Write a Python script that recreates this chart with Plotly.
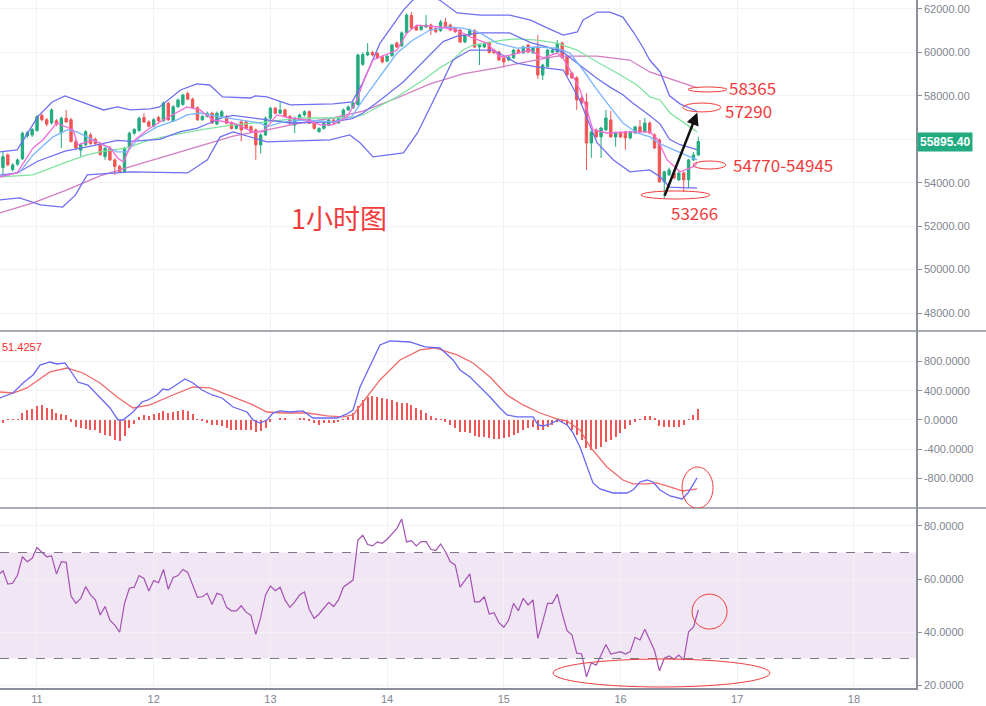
import numpy as np
import plotly.graph_objects as go

# ---------------- data ----------------
START = 10 + 16 / 24  # first hourly candle, in day units (day 10, 16:00)

opens = [54900, 54700, 55280, 54600, 54850, 55100, 56150, 56200, 56400, 57100,
         56900, 56750, 56850, 56300, 56970, 56900, 55900, 55500, 55750, 56200,
         56000, 55800, 55200, 55600, 55050, 54750, 54500, 55600, 56280, 56400,
         57000, 56800, 56600, 57000, 56850, 57650, 56850, 57500, 57600, 58100,
         57850, 57450, 56900, 57050, 57200, 56700, 57050, 57050, 56750, 56500,
         56800, 56800, 56580, 56430, 55740, 56200, 56970, 57430, 57200, 57350,
         57050, 56650, 56900, 57120, 57270, 56740, 56350, 56500, 56650, 56890,
         56750, 56970, 57350, 57450, 57600, 59450, 59880, 60000, 59950, 59800,
         59600, 59850, 60430, 60300, 60900, 61700, 61200, 61050, 61170, 61260,
         61100, 61000, 61400, 61260, 61100, 61030, 60480, 60800, 61000, 60250,
         60250, 60450, 60100, 60020, 59740, 59650, 59750, 60110, 59980, 60340,
         59980, 60250, 58960, 59350, 60000, 60020, 60430, 59790, 59050, 58830,
         57900, 57720, 55830, 56430, 56110, 56430, 56890, 56110, 56290, 56340,
         56060, 56290, 56570, 56340, 56750, 56200, 55970, 54040, 54360, 54450,
         54130, 54450, 54130, 55050, 55280]
highs = [55050, 55450, 55350, 54900, 55120, 56350, 56380, 56520, 57120, 57200,
         56980, 57430, 56930, 57050, 57350, 56980, 55980, 55820, 56420, 56300,
         56080, 55880, 55650, 55680, 55120, 54820, 55650, 56350, 56520, 57050,
         57200, 56880, 56970, 57080, 57750, 57720, 57580, 57880, 58100, 58200,
         57920, 57520, 57120, 57280, 57270, 57280, 57350, 57120, 56820, 56720,
         56880, 56870, 56650, 56500, 56280, 57050, 57500, 57500, 57740, 57420,
         57120, 57050, 57180, 57330, 57340, 56800, 56560, 56800, 56950, 56960,
         57030, 57420, 57560, 57740, 59950, 60000, 60430, 60080, 60020, 59870,
         59900, 60400, 60500, 60970, 61800, 61860, 61270, 61270, 61720, 61330,
         61170, 61500, 61600, 61330, 61170, 61100, 60870, 61100, 61070, 60400,
         60500, 60520, 60170, 60090, 59810, 59850, 60170, 60180, 60320, 60400,
         60260, 60800, 59480, 60170, 60170, 60570, 60500, 59850, 59120, 58900,
         57970, 58130, 56400, 56500, 56580, 57350, 57300, 56350, 56360, 56400,
         56400, 56630, 56890, 56980, 56820, 56270, 56040, 54560, 54700, 54520,
         54520, 54520, 55100, 55420, 56110]
lows = [54600, 54300, 54750, 54520, 54780, 55050, 56050, 56100, 56350, 56830,
        56600, 56680, 56600, 55600, 56750, 55850, 55520, 55200, 55680, 55750,
        55750, 55230, 55050, 55000, 54350, 54450, 54450, 55550, 56200, 56350,
        56750, 56550, 56550, 56800, 56800, 56850, 56800, 57450, 57550, 57800,
        57400, 56850, 56850, 57000, 56700, 56650, 57000, 56700, 56450, 56450,
        55900, 56450, 56300, 55050, 55350, 56150, 56900, 57150, 57150, 57000,
        56700, 56280, 56850, 57050, 56700, 56450, 56300, 56450, 56600, 56700,
        56700, 56920, 57300, 57400, 57550, 59380, 59820, 59820, 59700, 59500,
        59550, 59800, 60200, 60250, 60850, 61080, 60980, 61000, 61120, 60800,
        60900, 60950, 61120, 60980, 60900, 60430, 60430, 60750, 60200, 59420,
        60200, 59950, 59930, 59600, 59300, 59600, 59700, 59930, 59930, 59970,
        59930, 58780, 58730, 59300, 59950, 59970, 59700, 58900, 58780, 57350,
        57620, 54590, 55140, 56060, 55140, 56380, 56060, 55650, 56060, 55510,
        56000, 56240, 56290, 56290, 56240, 55550, 53990, 53266, 54300, 54170,
        54080, 53570, 53760, 55000, 55230]
closes = [54700, 55200, 54820, 54820, 55050, 56280, 56300, 56450, 57040, 56900,
          56700, 57350, 56700, 56970, 56800, 55900, 55600, 55750, 56350, 55800,
          55800, 55300, 55580, 55050, 54750, 54500, 55580, 56280, 56450, 56970,
          56800, 56600, 56900, 56850, 57670, 56900, 57500, 57810, 58040, 57850,
          57450, 56900, 57050, 57200, 56750, 57200, 57270, 56740, 56500, 56650,
          56430, 56500, 56350, 55740, 56200, 56970, 57430, 57200, 57350, 57050,
          56740, 56970, 57120, 57270, 56740, 56500, 56500, 56740, 56890, 56750,
          56970, 57350, 57490, 57670, 59880, 59900, 60000, 59880, 59750, 59560,
          59830, 60340, 60250, 60900, 61720, 61130, 61030, 61200, 61260, 61030,
          60950, 61400, 61170, 61030, 60950, 60480, 60800, 61030, 60250, 60340,
          60430, 60000, 59980, 59650, 59560, 59790, 60110, 59980, 60250, 60020,
          60200, 58960, 59420, 60110, 60110, 60430, 59750, 58960, 58830, 57810,
          57670, 55830, 56340, 56110, 56520, 56980, 56110, 56290, 56110, 56060,
          56340, 56570, 56340, 56750, 56290, 55600, 54040, 54500, 54590, 54220,
          54450, 54130, 55050, 55280, 55895.4]
LAST_PRICE = 55895.40

# Bollinger bands and moving averages (time in days, value in price)
bbu_t = [10.683, 10.83, 11.01, 11.13, 11.24, 11.57, 11.69, 11.8, 11.97, 12.05, 12.23, 12.37,
         12.48, 12.59, 12.83, 12.87, 12.97, 13.17, 13.54, 13.70, 13.79, 13.94, 14.14, 14.22,
         14.33, 14.45, 14.6, 14.8, 15.05, 15.23, 15.37, 15.51, 15.63, 15.68, 15.8, 15.91,
         16.02, 16.11, 16.19, 16.25, 16.34, 16.42, 16.51, 16.656]
bbu_v = [55420, 55510, 57070, 57720, 58000, 57350, 57490, 57350, 57400, 57490, 58270, 58550,
         58500, 57950, 57900, 58000, 57950, 57580, 57630, 57720, 58590, 60430, 61950, 62410,
         62700, 62410, 61816, 61720, 61720, 61490, 61130, 60800, 60940, 61490, 61860, 61860,
         61630, 60940, 60250, 59650, 59100, 58000, 57630, 57290]
bbl_t = [10.683, 10.85, 11.03, 11.22, 11.33, 11.43, 11.8, 12.29, 12.46, 12.57, 12.68, 12.85,
         12.97, 13.51, 13.68, 13.77, 13.88, 14.14, 14.26, 14.37, 14.48, 14.565, 14.71, 14.91,
         15.11, 15.28, 15.51, 15.65, 15.8, 15.94, 16.08, 16.25, 16.34, 16.42, 16.57, 16.656]
bbl_v = [53210, 53300, 52980, 52880, 53440, 54360, 54500, 54450, 55050, 56110, 56340, 56060,
         55880, 55970, 56200, 55830, 55190, 55370, 56290, 57490, 58730, 59650, 60110, 60110,
         59510, 59330, 59190, 57810, 55830, 55050, 54500, 54590, 54270, 53800, 53760, 53760]
bbm_t = [10.683, 10.83, 11.01, 11.24, 11.43, 11.57, 11.69, 11.8, 11.97, 12.05, 12.23, 12.37,
         12.48, 12.59, 12.68, 12.83, 12.97, 13.17, 13.54, 13.70, 13.79, 13.94, 14.14, 14.26,
         14.37, 14.48, 14.6, 14.8, 15.05, 15.23, 15.37, 15.51, 15.63, 15.8, 15.91, 16.02,
         16.11, 16.25, 16.34, 16.42, 16.51, 16.656]
bbm_v = [54350, 54450, 55000, 55450, 55650, 55800, 55950, 55900, 55950, 56000, 56350, 56500,
         56750, 57000, 57100, 57000, 56900, 56750, 56800, 56950, 57200, 57800, 58650, 59300,
         59900, 60500, 60750, 60900, 60900, 60450, 60250, 60000, 59500, 58800, 58400, 58050,
         57650, 57100, 56700, 56000, 55750, 55525]
ma_fast_t = [10.683, 10.83, 10.966, 11.05, 11.17, 11.31, 11.35, 11.48, 11.63, 11.69, 11.74,
             11.82, 11.943, 12.08, 12.285, 12.397, 12.508, 12.68, 12.85, 12.937, 13.056, 13.168,
             13.314, 13.425, 13.536, 13.656, 13.742, 13.793, 13.879, 14.085, 14.17, 14.256,
             14.453, 14.599, 14.71, 14.856, 14.967, 15.053, 15.225, 15.336, 15.456, 15.507,
             15.567, 15.653, 15.713, 15.764, 15.884, 16.081, 16.253, 16.32, 16.399, 16.51,
             16.621, 16.656]
ma_fast_v = [54270, 54450, 55600, 55970, 56750, 56430, 55740, 55970, 55600, 55140, 54960,
             55880, 56430, 56890, 57490, 57350, 56890, 56750, 56340, 56340, 57120, 56980,
             56890, 56660, 56660, 57030, 57810, 58590, 59650, 60110, 60900, 61260,
             61170, 61030, 60710, 60430, 59790, 59880, 60110, 59740, 59970, 59740,
             59190, 58270, 57350, 56430, 56290, 56340, 56340, 55970, 55050, 54500,
             54730, 54910]
ma_mid_t = [10.683, 10.854, 10.966, 11.137, 11.257, 11.343, 11.48, 11.6, 11.686, 11.77, 11.883,
            12.028, 12.2, 12.285, 12.397, 12.568, 12.74, 12.911, 12.971, 13.108, 13.314, 13.536,
            13.656, 13.70, 13.793, 13.939, 14.085, 14.222, 14.368, 14.513, 14.65, 14.796,
            14.942, 15.113, 15.284, 15.456, 15.567, 15.679, 15.799, 15.91, 16.021, 16.141,
            16.253, 16.339, 16.484, 16.656]
ma_mid_v = [54270, 54500, 55280, 56110, 56430, 56340, 55970, 55650, 55420, 55420, 56110,
            56570, 56890, 57120, 57210, 57030, 56890, 56750, 56570, 56800, 56890, 56800,
            56980, 57070, 57810, 58870, 59970, 60570, 61030, 61170, 61120, 60900,
            60430, 60200, 60250, 60200, 59970, 59190, 58270, 57490, 56750, 56290,
            56110, 55790, 55460, 55050]
ma_slow_t = [10.683, 10.966, 11.257, 11.429, 11.54, 11.77, 11.968, 12.165, 12.397, 12.68,
             12.971, 13.254, 13.536, 13.73, 13.793, 14.085, 14.31, 14.453, 14.565, 14.65,
             14.736, 14.882, 14.993, 15.113, 15.284, 15.456, 15.627, 15.799, 15.97, 16.141,
             16.253, 16.339, 16.424, 16.656]
ma_slow_v = [54270, 54360, 54960, 55280, 55420, 55600, 55970, 56200, 56430, 56660,
             56800, 56980, 56980, 57030, 57120, 57950, 58730, 59290, 59650, 60110,
             60340, 60480, 60570, 60620, 60570, 60430, 60110, 59560, 59050, 58500,
             57950, 57810, 57210, 56340]
ma_long_t = [10.683, 10.966, 11.257, 11.54, 11.823, 12.114, 12.397, 12.68, 12.971, 13.254,
             13.536, 13.793, 14.085, 14.368, 14.65, 14.942, 15.225, 15.456, 15.8, 16.08,
             16.25, 16.45, 16.656]
ma_long_v = [52610, 53070, 53670, 54310, 54770, 55230, 55690, 56150, 56430, 56750,
             56980, 57300, 57900, 58550, 59010, 59290, 59600, 59830, 59830, 59650,
             59100, 58730, 58365]

# MACD
macd_t = [10.683, 10.794, 10.88, 10.966, 11.026, 11.111, 11.171, 11.24, 11.3, 11.351, 11.437,
          11.54, 11.626, 11.694, 11.737, 11.823, 11.9, 11.951, 12.028, 12.08, 12.123, 12.165,
          12.268, 12.337, 12.414, 12.5, 12.585, 12.68, 12.8, 12.851, 12.911, 12.971, 13.022,
          13.082, 13.168, 13.279, 13.365, 13.451, 13.571, 13.656, 13.708, 13.768, 13.854,
          13.939, 14.025, 14.196, 14.325, 14.453, 14.565, 14.625, 14.71, 14.796, 14.882,
          14.967, 15.027, 15.113, 15.25, 15.293, 15.336, 15.396, 15.464, 15.542, 15.593,
          15.653, 15.713, 15.764, 15.824, 15.936, 16.056, 16.107, 16.167, 16.227, 16.279,
          16.339, 16.424, 16.527, 16.578, 16.656]
macd_v = [300, 368, 505, 614, 750, 791, 764, 778, 641, 518, 477,
          300, 164, 0, 0, 109, 246, 273, 341, 423, 409, 450,
          559, 505, 409, 341, 300, 177, 109, 0, -41, 0, 95,
          123, 109, 123, 27, 27, 27, 82, 136, 450, 750,
          1023, 1078, 1064, 996, 982, 819, 682, 587, 450, 314,
          164, 68, 41, 41, -68, -82, -55, 0, -68, -177,
          -368, -641, -859, -941, -996, -996, -955, -846, -819, -846,
          -955, -1037, -1078, -996, -791]
signal_t = [10.683, 10.794, 10.914, 11.026, 11.111, 11.257, 11.394, 11.54, 11.686, 11.823,
            11.968, 12.165, 12.337, 12.483, 12.68, 12.851, 12.971, 13.108, 13.314, 13.485,
            13.622, 13.708, 13.768, 13.939, 14.111, 14.282, 14.41, 14.599, 14.736, 14.882,
            15.027, 15.165, 15.31, 15.456, 15.542, 15.653, 15.739, 15.884, 16.021, 16.107,
            16.227, 16.313, 16.45, 16.535, 16.656]
signal_v = [382, 368, 437, 559, 655, 709, 641, 505, 314, 164,
            205, 341, 450, 437, 314, 205, 109, 95, 95, 55,
            41, 68, 191, 546, 819, 955, 982, 887, 778, 587,
            341, 205, 95, 14, -14, -136, -368, -641, -819, -873,
            -873, -859, -928, -969, -941]
macd_hist = [-40, -40, 10, 10, 10, 100, 140, 150, 195, 205,
             170, 150, 90, 80, 70, -25, -90, -115, -125, -130,
             -135, -180, -205, -225, -275, -285, -220, -115, -55, 35,
             70, 55, 80, 90, 125, 100, 115, 125, 135, 125,
             80, 10, -10, -35, -75, -75, -80, -115, -135, -135,
             -135, -135, -135, -170, -155, -115, -25, 0, 30, 30,
             0, 0, 15, 30, -10, -45, -70, -45, -35, -35,
             -30, 10, 35, 90, 190, 270, 320, 330, 320, 300,
             290, 270, 250, 230, 230, 210, 170, 140, 100, 60,
             20, 5, -23, -68, -114, -159, -159, -182, -218, -228,
             -228, -250, -260, -264, -250, -237, -205, -182, -137, -114,
             -91, -137, -137, -91, -68, -23, -32, -68, -137, -205,
             -273, -387, -410, -400, -364, -296, -273, -228, -182, -127,
             -68, -23, 9, 55, 55, 23, -82, -100, -100, -100,
             -91, -68, 9, 68, 155]
MACD_LABEL = "51.4257"

# RSI (hourly)
rsi = [61.5, 63.1, 58.1, 58.4, 61.5, 68.4, 66.5, 67.8, 71.9, 70.3,
       68.4, 68.7, 61.9, 66.5, 66.3, 53.6, 50.8, 52.7, 57.1, 54.0,
       52.1, 46.4, 49.6, 44.5, 42.6, 39.9, 50.8, 56.5, 56.9, 61.3,
       60.2, 55.5, 59.4, 58.6, 63.6, 56.1, 60.6, 61.3, 63.6, 62.5,
       57.7, 53.1, 53.3, 54.6, 50.4, 54.6, 54.0, 49.3, 48.0, 48.0,
       49.9, 47.5, 46.3, 39.1, 45.5, 54.0, 57.4, 55.6, 56.9, 52.1,
       49.3, 51.4, 54.0, 55.1, 48.5, 45.1, 46.8, 49.2, 51.2, 49.6,
       52.1, 56.9, 58.1, 59.6, 74.7, 76.5, 73.0, 72.5, 74.0, 73.5,
       75.0, 77.0, 79.0, 82.6, 74.0, 74.5, 72.5, 74.1, 74.1, 71.2,
       70.7, 73.2, 70.3, 66.5, 65.3, 56.9, 59.6, 61.9, 51.4, 51.4,
       53.3, 46.8, 47.3, 43.5, 41.8, 44.5, 50.8, 48.0, 52.7, 50.2,
       52.1, 37.6, 43.9, 50.8, 50.8, 54.3, 47.0, 40.5, 38.9, 32.0,
       31.7, 23.1, 28.4, 27.5, 31.3, 35.3, 31.7, 32.2, 32.6, 31.7,
       32.6, 38.0, 37.0, 41.0, 36.7, 33.0, 25.3, 30.1, 31.0, 29.7,
       31.3, 29.4, 40.1, 41.8, 48.3]
RSI_UPPER, RSI_LOWER = 70, 30

day_ticks = [11, 12, 13, 14, 15, 16, 17, 18]
price_ticks = [48000, 50000, 52000, 54000, 56000, 58000, 60000, 62000]
macd_ticks = [800, 400, 0, -400, -800]
rsi_ticks = [80, 60, 40, 20]

# annotations (text, day, value)
price_notes = [("58365", 16.921, 58400), ("57290", 16.887, 57310), ("54770-54945", 16.955, 54820)]
low_note = ("53266", 16.63, 52610)
title_note = ("1小时图", 13.588, 52380)
price_ellipses = [(16.578, 16.913, 58180, 58410), (16.535, 16.861, 57260, 57670),
                  (16.621, 16.904, 54630, 55000), (16.176, 16.767, 53250, 53620)]
macd_ellipse = (16.527, 16.793, -1205, -641)
rsi_circle = (16.613, 16.913, 41.1, 54.3)
rsi_ellipse = (15.422, 17.281, 19.25, 29.8)
arrow_from = (16.373, 53330)
arrow_to = (16.658, 57230)

# ---------------- styling ----------------
GREEN = "#22ab80"
RED = "#f25555"
NOTE_RED = "#f03c3c"
BB_COL = "#6f6ff2"
GRID = "#f1f2f5"
AXIS = "#8a8f99"
TICKC = "#80858f"
FONT = "Liberation Sans, Arial, sans-serif"
CJK = "Noto Sans CJK SC, sans-serif"

t = START + np.arange(len(closes)) / 24.0

fig = go.Figure()


def add_line(xs, ys, color, axis, width=1.3):
    fig.add_trace(go.Scatter(x=xs, y=ys, mode="lines", line=dict(color=color, width=width),
                             yaxis=axis, hoverinfo="skip", showlegend=False))


# price panel
add_line(ma_long_t, ma_long_v, "#d37cc4", "y")
add_line(ma_slow_t, ma_slow_v, "#7fe3a0", "y")
add_line(bbu_t, bbu_v, BB_COL, "y")
add_line(bbl_t, bbl_v, BB_COL, "y")
add_line(bbm_t, bbm_v, BB_COL, "y")
add_line(ma_mid_t, ma_mid_v, "#79b4ff", "y")
add_line(ma_fast_t, ma_fast_v, "#f56ad8", "y")
fig.add_trace(go.Candlestick(
    x=t, open=opens, high=highs, low=lows, close=closes,
    increasing=dict(line=dict(color=GREEN, width=1), fillcolor=GREEN),
    decreasing=dict(line=dict(color=RED, width=1), fillcolor=RED),
    whiskerwidth=0, xaxis="x", yaxis="y", showlegend=False, hoverinfo="skip"))

# MACD panel
fig.add_trace(go.Bar(x=t, y=macd_hist, width=0.009, marker=dict(color=RED, line=dict(width=0)),
                     yaxis="y2", hoverinfo="skip", showlegend=False))
add_line(signal_t, signal_v, "#f36a6a", "y2")
add_line(macd_t, macd_v, "#6868f5", "y2")

# RSI panel
add_line(t, rsi, "#a452b4", "y3", width=1.2)

shapes = []
# RSI band
shapes.append(dict(type="rect", xref="paper", yref="y3", x0=0, x1=1, y0=RSI_LOWER, y1=RSI_UPPER,
                   fillcolor="rgba(160,90,180,0.15)", line=dict(width=0), layer="below"))
for lv in (RSI_UPPER, RSI_LOWER):
    shapes.append(dict(type="line", xref="paper", yref="y3", x0=0, x1=1, y0=lv, y1=lv,
                       line=dict(color="#7a7a82", width=1, dash="dash")))
# panel separators spanning the full width
P_TOP = 1 - 331 / 688
R_TOP = 1 - 508 / 688
for yy in (P_TOP, R_TOP):
    shapes.append(dict(type="line", xref="paper", yref="paper", x0=0, x1=986 / 916, y0=yy, y1=yy,
                       line=dict(color="#8c9099", width=1.5)))
# ellipses
for (x0, x1, y0, y1) in price_ellipses:
    shapes.append(dict(type="circle", xref="x", yref="y", x0=x0, x1=x1, y0=y0, y1=y1,
                       line=dict(color=NOTE_RED, width=1)))
shapes.append(dict(type="circle", xref="x", yref="y2", x0=macd_ellipse[0], x1=macd_ellipse[1],
                   y0=macd_ellipse[2], y1=macd_ellipse[3], line=dict(color=NOTE_RED, width=1)))
shapes.append(dict(type="circle", xref="x", yref="y3", x0=rsi_circle[0], x1=rsi_circle[1],
                   y0=rsi_circle[2], y1=rsi_circle[3], line=dict(color=NOTE_RED, width=1)))
shapes.append(dict(type="circle", xref="x", yref="y3", x0=rsi_ellipse[0], x1=rsi_ellipse[1],
                   y0=rsi_ellipse[2], y1=rsi_ellipse[3], line=dict(color=NOTE_RED, width=1)))

annotations = []
for (txt, xx, yy) in price_notes:
    annotations.append(dict(x=xx, y=yy, xref="x", yref="y", text=txt, showarrow=False,
                            xanchor="left", yanchor="middle", borderpad=0,
                            font=dict(family=CJK, size=17, color=NOTE_RED)))
annotations.append(dict(x=low_note[1], y=low_note[2], xref="x", yref="y", text=low_note[0],
                        showarrow=False, xanchor="center", yanchor="middle", borderpad=0,
                        font=dict(family=CJK, size=17, color=NOTE_RED)))
annotations.append(dict(x=title_note[1], y=title_note[2], xref="x", yref="y", text=title_note[0],
                        showarrow=False, xanchor="center", yanchor="middle",
                        font=dict(family=CJK, size=27, color=NOTE_RED)))
annotations.append(dict(x=arrow_to[0], y=arrow_to[1], ax=arrow_from[0], ay=arrow_from[1],
                        xref="x", yref="y", axref="x", ayref="y", text="", showarrow=True,
                        arrowhead=2, arrowsize=1, arrowwidth=2.5, arrowcolor="#111111"))
annotations.append(dict(x=1, y=LAST_PRICE, xref="paper", yref="y", text=f"<b>{LAST_PRICE:.2f}</b>",
                        showarrow=False, xanchor="left", yanchor="middle", bgcolor=GREEN,
                        borderpad=2, xshift=1, font=dict(family=FONT, size=12, color="white")))
annotations.append(dict(x=0, y=1 - 347 / 688, xref="paper", yref="paper", text=MACD_LABEL,
                        showarrow=False, xanchor="left", yanchor="middle",
                        font=dict(family=FONT, size=11, color="#ff2a2a")))

yax_common = dict(side="right", anchor="x", showline=True, linecolor=AXIS, linewidth=1.5,
                  ticks="outside", ticklen=4, tickcolor=AXIS, showgrid=True, gridcolor=GRID,
                  zeroline=False, automargin=False,
                  tickfont=dict(family=FONT, size=11, color=TICKC), fixedrange=True)

# the price tag covers the 56000 tick label
price_ticktext = ["" if v == 56000 else f"{v:.2f}" for v in price_ticks]

fig.update_layout(
    width=986, height=706,
    margin=dict(l=0, r=70, t=0, b=18, autoexpand=False),
    paper_bgcolor="white", plot_bgcolor="white",
    showlegend=False, bargap=0,
    xaxis=dict(domain=[0, 1], range=[10.683, 18.532], anchor="y3", tickvals=day_ticks,
               ticktext=[str(d) for d in day_ticks], showgrid=True, gridcolor=GRID,
               showline=True, linecolor=AXIS, linewidth=1.5, ticks="", ticklen=0,
               zeroline=False, rangeslider=dict(visible=False),
               automargin=False, tickfont=dict(family=FONT, size=11, color=TICKC)),
    yaxis=dict(domain=[P_TOP, 1], range=[47171, 62414], tickvals=price_ticks,
               ticktext=price_ticktext, **yax_common),
    yaxis2=dict(domain=[R_TOP, P_TOP], range=[-1201, 1214], tickvals=macd_ticks,
                ticktext=[f"{v:.4f}" for v in macd_ticks], **yax_common),
    yaxis3=dict(domain=[0, R_TOP], range=[18.87, 86.79], tickvals=rsi_ticks,
                ticktext=[f"{v:.4f}" for v in rsi_ticks], **yax_common),
    shapes=shapes, annotations=annotations,
)

fig.write_html("out.html")
